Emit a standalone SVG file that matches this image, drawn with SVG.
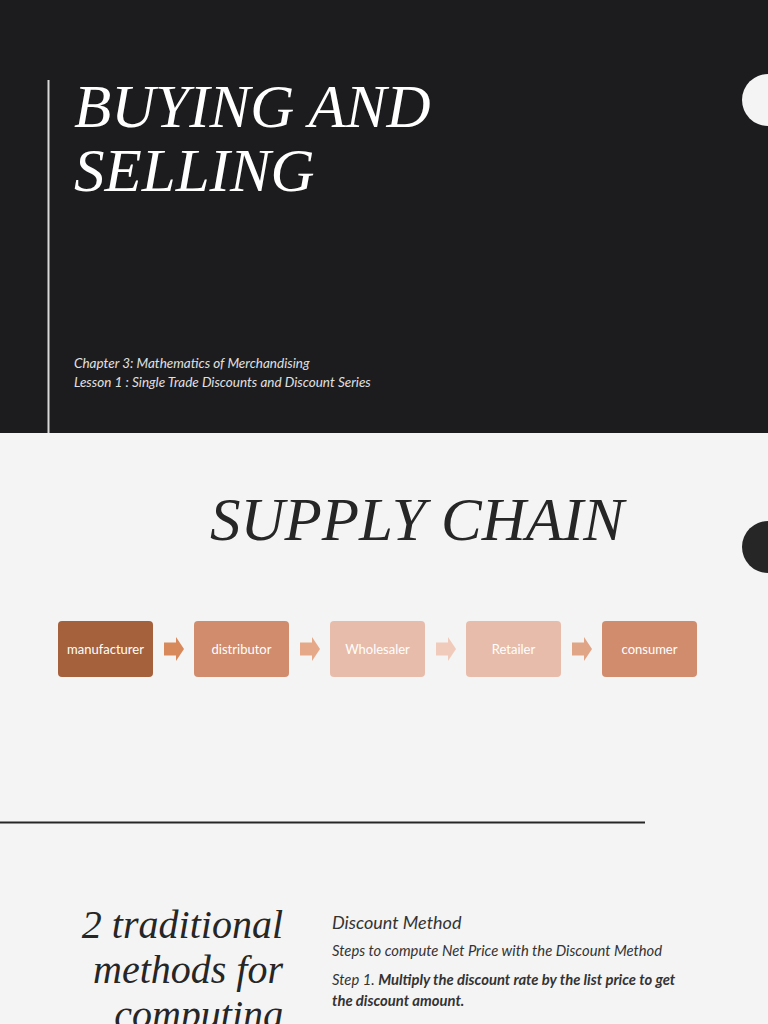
<svg xmlns="http://www.w3.org/2000/svg" width="768" height="1024" viewBox="0 0 768 1024">
<style>
.title{font-family:"Liberation Serif","Times New Roman",serif;font-style:italic}
.sans{font-family:Lato,"Open Sans",sans-serif;font-style:italic}
.box text{font-family:Lato,"Open Sans",sans-serif;font-size:13px;fill:#ffffff;text-anchor:middle}
</style>
<defs>
<path id="arr" d="M0,-6.5 H12 V-12 L20,0 L12,12 V6.5 H0 Z"/>
</defs>
<rect x="0" y="0" width="768" height="433" fill="#1c1b1e"/>
<rect x="0" y="433" width="768" height="591" fill="#f4f4f4"/>
<line x1="48.5" y1="80" x2="48.5" y2="433" stroke="#d8d8d8" stroke-width="2"/>
<text class="title" x="74" y="127" font-size="61" fill="#ffffff">BUYING AND</text>
<text class="title" x="74" y="191" font-size="61" fill="#ffffff">SELLING</text>
<text class="sans" x="74" y="368" font-size="13.5" fill="#e0e0e0">Chapter 3: Mathematics of Merchandising</text>
<text class="sans" x="74" y="387" font-size="13.5" fill="#e0e0e0">Lesson 1 : Single Trade Discounts and Discount Series</text>
<circle cx="768" cy="100" r="26" fill="#f4f4f4"/>
<circle cx="768" cy="547" r="26" fill="#262626"/>
<text class="title" x="210" y="540" font-size="61" fill="#262626">SUPPLY CHAIN</text>
<g id="n1" class="box"><rect x="58" y="621" width="95" height="56" rx="4" fill="#a5613b"/><text x="105.5" y="653.5">manufacturer</text></g>
<g id="n2" class="box"><rect x="194" y="621" width="95" height="56" rx="4" fill="#d08c6c"/><text x="241.5" y="653.5">distributor</text></g>
<g id="n3" class="box"><rect x="330" y="621" width="95" height="56" rx="4" fill="#e8bcaa"/><text x="377.5" y="653.5">Wholesaler</text></g>
<g id="n4" class="box"><rect x="466" y="621" width="95" height="56" rx="4" fill="#e8bcaa"/><text x="513.5" y="653.5">Retailer</text></g>
<g id="n5" class="box"><rect x="602" y="621" width="95" height="56" rx="4" fill="#d08c6c"/><text x="649.5" y="653.5">consumer</text></g>
<g id="connectors">
<use href="#arr" x="164" y="649" fill="#d8895c"/>
<use href="#arr" x="300" y="649" fill="#e5a98a"/>
<use href="#arr" x="436" y="649" fill="#f0cbbb"/>
<use href="#arr" x="572" y="649" fill="#e0a586"/>
</g>
<line x1="0" y1="822.5" x2="645" y2="822.5" stroke="#262626" stroke-width="2"/>
<g class="title" font-size="40" fill="#262626" text-anchor="end">
<text x="283" y="938">2 traditional</text>
<text x="283" y="983">methods for</text>
<text x="283" y="1028">computing</text>
</g>
<g class="sans" fill="#333333">
<text x="332" y="929" font-size="18">Discount Method</text>
<text x="332" y="956" font-size="14.8">Steps to compute Net Price with the Discount Method</text>
<text x="332" y="985" font-size="14.8">Step 1. <tspan font-weight="bold">Multiply the discount rate by the list price to get</tspan></text>
<text x="332" y="1006" font-size="14.8" font-weight="bold">the discount amount.</text>
</g>
</svg>
